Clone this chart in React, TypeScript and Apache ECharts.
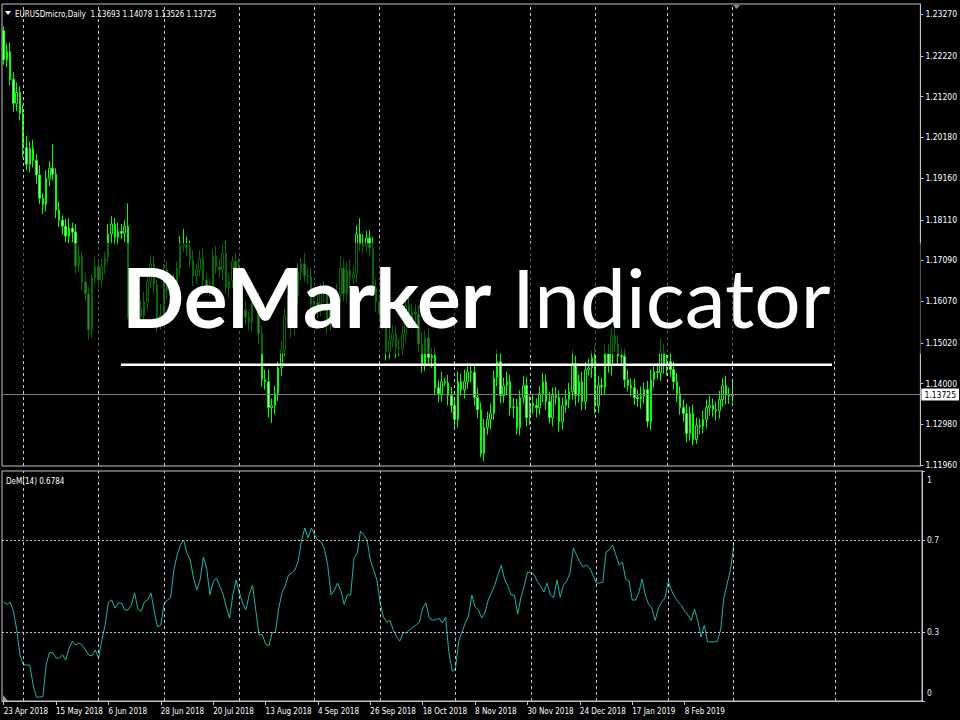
import React, { useEffect, useRef } from 'react';
import * as echarts from 'echarts';

// ---------- data ----------
const firstOpen = 1.2285;
const closes = [
  1.2212, 1.2233, 1.2163, 1.2103, 1.2130, 1.2078, 1.1992, 1.1950, 1.1990, 1.1960, 1.1923, 1.1865, 1.1850, 1.1915, 1.1940, 1.1925,
  1.1835, 1.1810, 1.1795, 1.1770, 1.1790, 1.1780, 1.1695, 1.1720, 1.1655, 1.1625, 1.1535, 1.1665, 1.1693, 1.1660, 1.1695, 1.1717,
  1.1775, 1.1800, 1.1767, 1.1782, 1.1777, 1.1795, 1.1568, 1.1610, 1.1624, 1.1588, 1.1570, 1.1605, 1.1656, 1.1700, 1.1648, 1.1553,
  1.1570, 1.1685, 1.1635, 1.1656, 1.1655, 1.1690, 1.1745, 1.1748, 1.1741, 1.1710, 1.1670, 1.1685, 1.1713, 1.1660, 1.1640, 1.1643,
  1.1720, 1.1693, 1.1685, 1.1727, 1.1640, 1.1658, 1.1707, 1.1690, 1.1660, 1.1585, 1.1567, 1.1553, 1.1605, 1.1610, 1.1525, 1.1410,
  1.1405, 1.1340, 1.1345, 1.1375, 1.1440, 1.1485, 1.1570, 1.1595, 1.1540, 1.1620, 1.1680, 1.1700, 1.1670, 1.1668, 1.1600, 1.1603,
  1.1585, 1.1630, 1.1625, 1.1550, 1.1595, 1.1600, 1.1625, 1.1690, 1.1625, 1.1685, 1.1665, 1.1675, 1.1775, 1.1750, 1.1745, 1.1765,
  1.1740, 1.1640, 1.1605, 1.1575, 1.1550, 1.1480, 1.1510, 1.1525, 1.1490, 1.1488, 1.1525, 1.1595, 1.1560, 1.1580, 1.1575, 1.1500,
  1.1450, 1.1515, 1.1465, 1.1470, 1.1390, 1.1375, 1.1405, 1.1402, 1.1370, 1.1345, 1.1310, 1.1405, 1.1385, 1.1405, 1.1430, 1.1428,
  1.1365, 1.1335, 1.1225, 1.1290, 1.1310, 1.1325, 1.1415, 1.1455, 1.1370, 1.1395, 1.1405, 1.1340, 1.1342, 1.1290, 1.1365, 1.1395,
  1.1315, 1.1350, 1.1345, 1.1340, 1.1375, 1.1405, 1.1355, 1.1315, 1.1370, 1.1365, 1.1305, 1.1345, 1.1360, 1.1380, 1.1450, 1.1370,
  1.1405, 1.1355, 1.1435, 1.1440, 1.1465, 1.1345, 1.1395, 1.1392, 1.1475, 1.1445, 1.1520, 1.1500, 1.1470, 1.1468, 1.1410, 1.1395,
  1.1390, 1.1365, 1.1362, 1.1368, 1.1385, 1.1305, 1.1410, 1.1430, 1.1428, 1.1480, 1.1445, 1.1455, 1.1435, 1.1405, 1.1375, 1.1340,
  1.1325, 1.1275, 1.1325, 1.1260, 1.1295, 1.1293, 1.1310, 1.1340, 1.1345, 1.1335, 1.1332, 1.1360, 1.1395, 1.1370, 1.13693, 1.13725,
];
// wick lengths in pips beyond the body
const upWick = [
  11, 20, 22, 18, 25, 15, 20, 30, 18, 22, 16, 25, 12, 20, 18, 60,
  15, 22, 12, 18, 25, 14, 20, 26, 12, 20, 18, 10, 25, 15, 20, 12,
  25, 20, 15, 22, 18, 16, 57, 22, 28, 15, 20, 25, 18, 22, 20, 12,
  30, 15, 22, 18, 20, 16, 25, 40, 20, 18, 24, 15, 22, 28, 18, 20,
  15, 25, 20, 22, 30, 18, 12, 20, 25, 18, 22, 15, 25, 20, 18, 20,
  25, 30, 18, 20, 15, 22, 20, 25, 30, 18, 22, 15, 28, 20, 22, 18,
  25, 20, 28, 22, 18, 20, 25, 30, 22, 18, 25, 20, 22, 40, 25, 18,
  20, 28, 22, 18, 25, 20, 30, 22, 18, 25, 20, 28, 25, 20, 18, 22,
  30, 18, 25, 20, 22, 18, 25, 10, 20, 22, 18, 25, 20, 30, 22, 18,
  20, 25, 18, 22, 20, 25, 18, 30, 22, 20, 25, 18, 22, 20, 18, 25,
  22, 20, 25, 18, 20, 22, 18, 25, 20, 22, 18, 20, 25, 22, 35, 20,
  18, 25, 20, 22, 18, 30, 25, 20, 22, 25, 20, 45, 22, 18, 20, 25,
  18, 22, 20, 25, 18, 22, 25, 20, 22, 34, 20, 18, 25, 20, 22, 18,
  20, 25, 18, 22, 20, 18, 22, 20, 25, 18, 20, 22, 18, 25, 20, 35,
];
const downWick = [
  12, 18, 15, 22, 20, 18, 25, 15, 20, 18, 22, 15, 25, 18, 20, 15,
  20, 18, 22, 15, 18, 25, 20, 15, 22, 18, 25, 20, 15, 22, 18, 20,
  15, 22, 18, 20, 15, 22, 5, 25, 18, 20, 22, 15, 20, 18, 22, 25,
  18, 20, 22, 15, 25, 18, 20, 15, 22, 18, 25, 20, 15, 22, 18, 20,
  22, 18, 20, 25, 15, 22, 18, 20, 15, 22, 18, 20, 22, 15, 25, 18,
  20, 25, 39, 22, 18, 20, 15, 22, 25, 18, 20, 22, 15, 20, 18, 22,
  20, 15, 22, 25, 18, 20, 15, 22, 18, 20, 25, 15, 22, 18, 20, 15,
  22, 18, 25, 20, 15, 22, 18, 20, 25, 18, 15, 22, 20, 18, 25, 20,
  22, 18, 20, 25, 18, 22, 20, 8, 25, 18, 22, 20, 15, 22, 18, 25,
  20, 22, 9, 20, 18, 25, 15, 22, 20, 18, 22, 20, 25, 18, 20, 15,
  22, 18, 20, 25, 18, 22, 20, 15, 22, 18, 25, 20, 18, 22, 20, 25,
  18, 22, 20, 15, 25, 20, 18, 22, 20, 18, 25, 20, 22, 18, 20, 15,
  22, 18, 20, 25, 18, 15, 22, 20, 18, 22, 20, 25, 18, 20, 22, 18,
  20, 22, 18, 15, 11, 20, 18, 22, 20, 18, 25, 20, 18, 22, 20, 17,
];
const quote = { open: 1.13693, high: 1.14078, low: 1.13526, close: 1.13725 };
const dem = [
  0.43, 0.42, 0.43, 0.39, 0.31, 0.20, 0.157, 0.157, 0.155, 0.07, 0.017, 0.017, 0.02, 0.16, 0.21, 0.21,
  0.187, 0.187, 0.2, 0.178, 0.23, 0.26, 0.243, 0.252, 0.243, 0.222, 0.2, 0.196, 0.222, 0.187, 0.265, 0.33,
  0.43, 0.439, 0.404, 0.426, 0.426, 0.396, 0.396, 0.417, 0.47, 0.40, 0.39, 0.43, 0.44, 0.47, 0.39, 0.322,
  0.33, 0.42, 0.439, 0.448, 0.57, 0.635, 0.678, 0.70, 0.643, 0.613, 0.535, 0.483, 0.526, 0.626, 0.578, 0.461,
  0.517, 0.535, 0.5, 0.465, 0.41, 0.36, 0.461, 0.526, 0.47, 0.426, 0.396, 0.461, 0.504, 0.396, 0.287, 0.29,
  0.248, 0.239, 0.296, 0.3, 0.4, 0.47, 0.5, 0.548, 0.557, 0.57, 0.61, 0.7, 0.752, 0.709, 0.752, 0.722,
  0.7, 0.691, 0.66, 0.59, 0.461, 0.48, 0.513, 0.48, 0.42, 0.461, 0.461, 0.622, 0.643, 0.739, 0.722, 0.7,
  0.613, 0.57, 0.526, 0.426, 0.365, 0.343, 0.35, 0.31, 0.28, 0.26, 0.296, 0.296, 0.309, 0.322, 0.33, 0.343,
  0.404, 0.426, 0.36, 0.352, 0.352, 0.36, 0.339, 0.365, 0.21, 0.13, 0.14, 0.26, 0.3, 0.34, 0.37, 0.46,
  0.409, 0.396, 0.361, 0.383, 0.439, 0.47, 0.504, 0.55, 0.59, 0.53, 0.5, 0.461, 0.46, 0.378, 0.45, 0.5,
  0.561, 0.557, 0.55, 0.52, 0.5, 0.474, 0.513, 0.461, 0.45, 0.526, 0.452, 0.504, 0.522, 0.557, 0.665, 0.635,
  0.604, 0.583, 0.591, 0.578, 0.548, 0.513, 0.513, 0.517, 0.648, 0.657, 0.678, 0.635, 0.591, 0.604, 0.53, 0.522,
  0.439, 0.439, 0.47, 0.53, 0.461, 0.42, 0.404, 0.35, 0.404, 0.43, 0.448, 0.52, 0.48, 0.452, 0.43, 0.417,
  0.39, 0.374, 0.35, 0.40, 0.35, 0.278, 0.33, 0.257, 0.257, 0.257, 0.26, 0.31, 0.45, 0.51, 0.57, 0.6784,
];
const tickLabels = [
  '23 Apr 2018', '15 May 2018', '6 Jun 2018', '28 Jun 2018', '20 Jul 2018', '13 Aug 2018', '4 Sep 2018',
  '26 Sep 2018', '18 Oct 2018', '8 Nov 2018', '30 Nov 2018', '24 Dec 2018', '17 Jan 2019', '8 Feb 2019',
];
const BARS_PER_LABEL = 16;
const TOTAL_SLOTS = 281;
const monthLineIdx = [6, 29, 49, 72, 95, 115, 138, 161, 181, 203, 223, 254];
const priceTicks = [1.1196, 1.1298, 1.14, 1.1502, 1.1607, 1.1709, 1.1811, 1.1916, 1.2018, 1.212, 1.2222, 1.2327];
const priceMin = 1.11935;
const priceMax = 1.23521;
const demTicks = [0, 0.3, 0.7, 1];
const demLevels = [0.3, 0.7];
const symbolText = 'EURUSDmicro,Daily';
const demTitle = 'DeM(14) 0.6784';
const titleBold = 'DeMarker';
const titleLight = 'Indicator';

// ---------- styles ----------
const PIP = 0.0001;
const AX_FONT = "'DejaVu Sans Condensed', 'Liberation Sans', sans-serif";
const FRAME = '#c4c4c4';
const GRIDLINE = '#c8c8c8';
const LIME = '#00ff00';

const categories = Array.from({ length: TOTAL_SLOTS }, (_, i) => String(i));
const candles = closes.map((c, i) => {
  if (i === closes.length - 1) return [quote.open, quote.close, quote.low, quote.high];
  const o = i === 0 ? firstOpen : closes[i - 1];
  return [o, c, Math.min(o, c) - downWick[i] * PIP, Math.max(o, c) + upWick[i] * PIP];
});
const isLabelIdx = (i: number) => i % BARS_PER_LABEL === 0 && i / BARS_PER_LABEL < tickLabels.length;

const vLines = monthLineIdx.map((i) => ({
  xAxis: i,
  lineStyle: { color: GRIDLINE, type: [3, 3], width: 1 },
  label: { show: false },
}));

const option: any = {
  animation: false,
  backgroundColor: '#000',
  grid: [
    { left: 2, top: 4, width: 920, height: 462, show: true, borderColor: FRAME, borderWidth: 1, backgroundColor: 'transparent' },
    { left: 2, top: 471, width: 920, height: 230, show: true, borderColor: FRAME, borderWidth: 1, backgroundColor: 'transparent' },
  ],
  xAxis: [
    {
      type: 'category', gridIndex: 0, data: categories, boundaryGap: true,
      axisLine: { show: false }, axisTick: { show: false }, axisLabel: { show: false }, splitLine: { show: false },
    },
    {
      type: 'category', gridIndex: 1, data: categories, boundaryGap: true,
      axisLine: { show: true, lineStyle: { color: FRAME } },
      axisTick: { show: true, alignWithLabel: true, interval: (i: number) => isLabelIdx(i), length: 4, lineStyle: { color: FRAME } },
      axisLabel: {
        show: true, interval: (i: number) => isLabelIdx(i), align: 'left', margin: 6,
        color: '#ffffff', fontSize: 8, fontFamily: AX_FONT,
        formatter: (_v: string, i: number) => (isLabelIdx(i) ? tickLabels[i / BARS_PER_LABEL] : ''),
      },
      splitLine: { show: false },
    },
  ],
  yAxis: [
    {
      type: 'value', gridIndex: 0, position: 'right', min: priceMin, max: priceMax, scale: true,
      axisLine: { show: true, lineStyle: { color: FRAME } },
      axisTick: { show: true, length: 3, customValues: priceTicks, lineStyle: { color: FRAME } },
      axisLabel: {
        show: true, customValues: priceTicks, margin: 5, color: '#ffffff', fontSize: 8.5, fontFamily: AX_FONT,
        formatter: (v: number) => v.toFixed(5),
      },
      splitLine: { show: false },
    },
    {
      type: 'value', gridIndex: 1, position: 'right', min: 0, max: 1,
      axisLine: { show: true, lineStyle: { color: FRAME } },
      axisTick: { show: true, length: 3, customValues: demTicks, lineStyle: { color: FRAME } },
      axisLabel: {
        show: true, customValues: demTicks, margin: 5, color: '#e6eefa', fontSize: 8.5, fontFamily: AX_FONT,
        formatter: (v: number) => (v === 1 ? '{t|1}' : v === 0 ? '{b|0}' : String(v)),
        rich: {
          t: { padding: [17, 0, 0, 0], color: '#e6eefa', fontSize: 8.5, fontFamily: AX_FONT },
          b: { padding: [0, 0, 17, 0], color: '#e6eefa', fontSize: 8.5, fontFamily: AX_FONT },
        },
      },
      splitLine: { show: false },
    },
  ],
  series: [
    {
      type: 'candlestick', xAxisIndex: 0, yAxisIndex: 0, data: candles, barWidth: 2,
      itemStyle: { color: '#000000', color0: '#c6ffc6', borderColor: LIME, borderColor0: LIME, borderWidth: 1 },
      markLine: {
        silent: true, symbol: ['none', 'none'], animation: false, precision: 5,
        data: [
          ...vLines,
          {
            yAxis: quote.close,
            lineStyle: { color: '#7c7c7c', type: 'solid', width: 1 },
            label: {
              show: true, position: 'end', distance: 1, formatter: quote.close.toFixed(5),
              backgroundColor: '#ffffff', color: '#000000', padding: [2, 3, 1, 3], fontSize: 8.5, fontFamily: AX_FONT,
            },
          },
        ],
      },
    },
    {
      type: 'line', xAxisIndex: 1, yAxisIndex: 1, data: dem, symbol: 'none', smooth: false,
      lineStyle: { color: '#20b2aa', width: 1 }, itemStyle: { color: '#20b2aa' },
      markLine: {
        silent: true, symbol: ['none', 'none'], animation: false, precision: 4,
        data: [
          ...vLines,
          ...demLevels.map((v) => ({ yAxis: v, lineStyle: { color: GRIDLINE, type: [2, 2], width: 1 }, label: { show: false } })),
        ],
      },
    },
  ],
  graphic: [
    { type: 'polygon', z: 10, shape: { points: [[5, 11], [11, 11], [8, 15]] }, style: { fill: '#ffffff' } },
    {
      type: 'text', z: 10, x: 15, y: 14,
      style: {
        text: `${symbolText}  ${quote.open.toFixed(5)} ${quote.high.toFixed(5)} ${quote.low.toFixed(5)} ${quote.close.toFixed(5)}`,
        fill: '#ffffff', fontSize: 8, fontFamily: AX_FONT, verticalAlign: 'middle', align: 'left',
      },
    },
    {
      type: 'text', z: 10, x: 6, y: 481,
      style: { text: demTitle, fill: '#ffffff', fontSize: 8, fontFamily: AX_FONT, verticalAlign: 'middle', align: 'left' },
    },
    { type: 'polygon', z: 10, shape: { points: [[733, 5], [740, 5], [736.5, 9]] }, style: { fill: '#8a8a8a' } },
    { type: 'polygon', z: 10, shape: { points: [[3, 695], [3, 701], [8, 701]] }, style: { fill: '#9a9a9a' } },
    { type: 'rect', z: 50, shape: { x: 3, y: 243, width: 918, height: 111 }, style: { fill: 'rgba(0,0,0,0.58)' } },
    {
      type: 'text', z: 60, x: 122, y: 296,
      style: { text: titleBold, fill: '#ffffff', fontSize: 82, fontWeight: 'bold', fontFamily: 'Lato', verticalAlign: 'middle', align: 'left' },
    },
    {
      type: 'text', z: 60, x: 512, y: 296,
      style: { text: titleLight, fill: '#ffffff', fontSize: 82, fontWeight: 'normal', fontFamily: 'Lato', verticalAlign: 'middle', align: 'left' },
    },
    { type: 'rect', z: 60, shape: { x: 121, y: 363.5, width: 711, height: 2.5 }, style: { fill: '#ffffff' } },
  ],
};

export default function App() {
  const ref = useRef<HTMLDivElement>(null);
  useEffect(() => {
    document.body.style.margin = '0';
    document.body.style.background = '#000';
    const chart = echarts.init(ref.current as HTMLDivElement, null, { renderer: 'svg' });
    chart.setOption(option);
    return () => chart.dispose();
  }, []);
  return <div ref={ref} style={{ position: 'absolute', left: 0, top: 0, width: 960, height: 720, background: '#000' }} />;
}
